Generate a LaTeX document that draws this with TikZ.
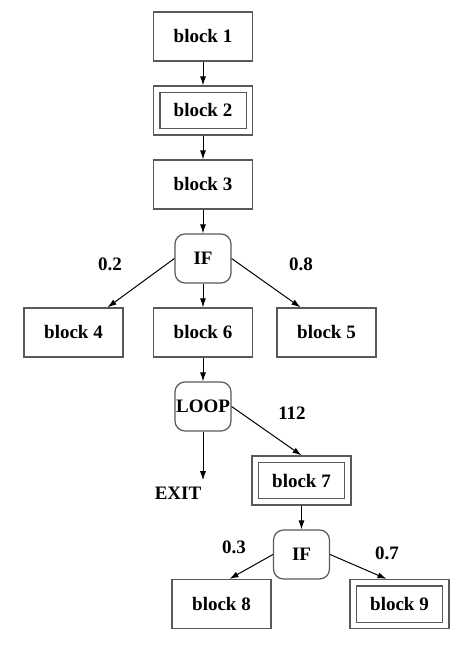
\documentclass[tikz,border=0pt]{standalone}
\usepackage{fontspec}
\setmainfont{Liberation Serif}
\usetikzlibrary{positioning,arrows.meta}

\tikzstyle{block} = [rectangle, minimum width=49.5pt, minimum height=24.5pt, text centered, draw=black!65, line width=0.6pt, fill=white, font=\fontsize{9.5}{11}\selectfont\bfseries]
\tikzstyle{dblock} = [block, double, double distance=2.6pt, minimum width=46.3pt, minimum height=21.3pt, outer sep=1.9pt]
\tikzstyle{test} = [block, rounded corners=5pt, minimum width=28pt, inner sep=0.5pt]
\tikzstyle{prob} = [font=\fontsize{9.5}{11}\selectfont\bfseries]
\tikzstyle{arrow} = [line width=0.5pt, -{Latex[length=4.5pt,width=3pt]}]

\begin{document}
\begin{tikzpicture}[node distance = 37pt, auto]
	\useasboundingbox (0,0) rectangle (237pt,-323pt);
	% Place nodes
	\node [block] (Block1) at (101.5pt,-18.25pt) {block 1};
	\node [dblock, below of=Block1] (Block2) {block 2};
	\node [block, below of=Block2] (Block3) {block 3};
	\node [test, below of=Block3] (If1) {IF};
	\node [block, below of=If1] (Block6) {block 6};
	\node [block, left of=Block6, xshift=-27.75pt] (Block4) {block 4};
	\node [block, right of=Block6, xshift=24.75pt] (Block5) {block 5};
	\node [test, below of=Block6] (Loop) {LOOP};
	\node [prob, below of=Loop, xshift=-12.5pt, yshift=-6.5pt] (Exit) {EXIT};
	\node [dblock, below of=Loop, xshift=49.25pt] (Block7) {block 7};
	\node [test, below of=Block7] (If2) {IF};
	\node [block, below of=If2, yshift=12.25pt, xshift=-40pt] (Block8) {block 8};
	\node [dblock, below of=If2, yshift=12.25pt, xshift=49pt] (Block9) {block 9};
	% Branch weights
	\node [prob, left of=If1, xshift=-9.5pt, yshift=-2.75pt] (P02) {0.2};
	\node [prob, right of=If1, xshift=12pt, yshift=-2.75pt] (P08) {0.8};
	\node [prob, right of=Loop, xshift=7.5pt, yshift=-3.5pt] (P112) {112};
	\node [prob, left of=If2, xshift=3.25pt, yshift=3.75pt] (P03) {0.3};
	\node [prob, right of=If2, xshift=5.75pt, yshift=0.75pt] (P07) {0.7};
	% Draw edges
	\draw [arrow] (Block1) -- (Block2);
	\draw [arrow] (Block2) -- (Block3);
	\draw [arrow] (Block3) -- (If1);
	\draw [arrow] (If1.west) -- ([xshift=17pt]Block4.north);
	\draw [arrow] (If1) -- (Block6);
	\draw [arrow] (If1.east) -- ([xshift=-13pt]Block5.north);
	\draw [arrow] (Block6) -- (Loop);
	\draw [arrow] (Loop.south) -- (Loop.south |- Exit.north);
	\draw [arrow] (Loop.east) -- (Block7.north);
	\draw [arrow] (Block7) -- (If2);
	\draw [arrow] (If2.west) -- ([xshift=4pt]Block8.north);
	\draw [arrow] (If2.east) -- ([xshift=-6.5pt]Block9.north);
\end{tikzpicture}
\end{document}
